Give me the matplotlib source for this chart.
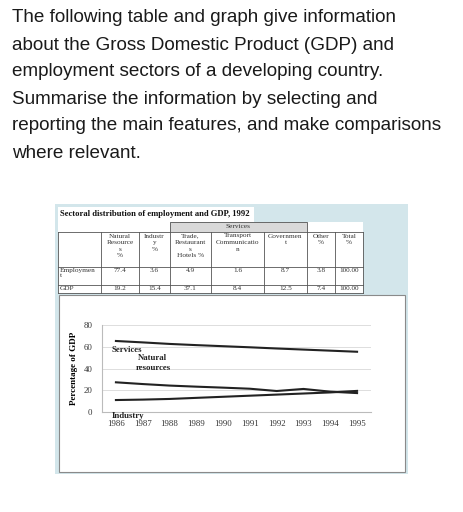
import matplotlib.pyplot as plt
from matplotlib.patches import Rectangle

# prompt text
prompt_lines = [
    "The following table and graph give information",
    "about the Gross Domestic Product (GDP) and",
    "employment sectors of a developing country.",
    "Summarise the information by selecting and",
    "reporting the main features, and make comparisons",
    "where relevant.",
]

# table data
table_title = "Sectoral distribution of employment and GDP, 1992"
col_headers = ["", "Natural\nResource\ns\n%", "Industr\ny\n%", "Trade,\nRestaurant\ns\nHotels %",
               "Transport\nCommunicatio\nn", "Governmen\nt", "Other\n%", "Total\n%"]
row_labels = ["Employmen\nt", "GDP"]
employment = ["77.4", "3.6", "4.9", "1.6", "8.7", "3.8", "100.00"]
gdp = ["19.2", "15.4", "37.1", "8.4", "12.5", "7.4", "100.00"]

# graph data
years = [1986, 1987, 1988, 1989, 1990, 1991, 1992, 1993, 1994, 1995]
services = [65.3, 64.0, 62.6, 61.5, 60.5, 59.5, 58.4, 57.4, 56.4, 55.4]
natural_res = [27.3, 25.7, 24.3, 23.3, 22.4, 21.4, 19.3, 21.2, 18.7, 17.4]
industry = [11.0, 11.4, 12.0, 13.0, 14.0, 15.0, 16.0, 17.0, 18.0, 19.4]

W, H = 463, 512
fig = plt.figure(figsize=(W / 100, H / 100), dpi=100)

bg = fig.add_axes([0, 0, 1, 1])
bg.set_xlim(0, W)
bg.set_ylim(H, 0)
bg.axis("off")

# prompt paragraph
for i, line in enumerate(prompt_lines):
    bg.text(12, 18 + i * 27, line, fontsize=13.6, family="Liberation Sans",
            va="center", ha="left", color="#1a1a1a")

# light blue panel
bg.add_patch(Rectangle((55, 204), 353, 270, facecolor="#d3e6eb", edgecolor="none"))
# title box
bg.add_patch(Rectangle((58, 207), 196, 15, facecolor="white", edgecolor="none"))
bg.text(60, 214.5, table_title, fontsize=6.2, family="Liberation Serif",
        weight="bold", va="center", ha="left", color="#111111")

# table grid
col_x = [58, 101, 139, 170, 211, 264, 307, 335, 363]
y_top, y_head, y_emp, y_gdp, y_bot = 222, 232, 267, 285, 293
lc = "#555555"
lw = 0.6
tfont = dict(fontsize=5.2, family="Liberation Serif", color="#333333")
# top row: white area plus grey "Services" span
bg.add_patch(Rectangle((58, y_top), 112, y_head - y_top, facecolor="white", edgecolor="none"))
bg.add_patch(Rectangle((307, y_top), 56, y_head - y_top, facecolor="white", edgecolor="none"))
bg.add_patch(Rectangle((170, y_top), 137, y_head - y_top, facecolor="#d9d9d9",
                       edgecolor=lc, linewidth=lw))
bg.text(238.5, y_top + 5, "Services", ha="center", va="center", **tfont)
bg.add_patch(Rectangle((58, y_head), 305, y_bot - y_head, facecolor="white", edgecolor="none"))
for yy in [y_head, y_emp, y_gdp, y_bot]:
    bg.plot([58, 363], [yy, yy], color=lc, linewidth=lw)
for xx in col_x:
    bg.plot([xx, xx], [y_head, y_bot], color=lc, linewidth=lw)

for j, head in enumerate(col_headers):
    xc = (col_x[j] + col_x[j + 1]) / 2
    bg.text(xc, y_head + 1.5, head, ha="center", va="top", linespacing=1.4, **tfont)

for i, (lab, vals) in enumerate(zip(row_labels, [employment, gdp])):
    ytxt = [y_emp + 1, y_gdp + 0.5][i]
    bg.text(60, ytxt, lab, ha="left", va="top", linespacing=0.95, **tfont)
    for j, v in enumerate(vals):
        xc = (col_x[j + 1] + col_x[j + 2]) / 2
        bg.text(xc, ytxt, v, ha="center", va="top", **tfont)

# chart box
bg.add_patch(Rectangle((59, 295), 346, 177, facecolor="white", edgecolor="#8a8a8a", linewidth=0.8))

# line chart
ax = fig.add_axes([102 / W, 1 - 412 / H, (371 - 102) / W, (412 - 325) / H])
ax.set_facecolor("none")
ax.set_xlim(1985.48, 1995.52)
ax.set_ylim(0, 80)
ax.set_yticks([0, 20, 40, 60, 80])
ax.set_xticks(years)
ax.grid(axis="y", color="#dddddd", linewidth=0.7)
ax.set_axisbelow(True)
for s in ["top", "right"]:
    ax.spines[s].set_visible(False)
for s in ["left", "bottom"]:
    ax.spines[s].set_color("#bbbbbb")
    ax.spines[s].set_linewidth(0.8)
ax.tick_params(length=0, labelsize=6.3, labelcolor="#333333")
ax.tick_params(axis="x", pad=6)
ax.tick_params(axis="y", pad=7)
for t in ax.get_xticklabels() + ax.get_yticklabels():
    t.set_family("Liberation Serif")

for series in [services, natural_res, industry]:
    ax.plot(years, series, color="#222222", linewidth=1.5)

ax.set_ylabel("Percentage of GDP", fontsize=6.5, family="Liberation Serif",
              weight="bold", labelpad=4)

lab_kw = dict(fontsize=6.3, family="Liberation Serif", weight="bold", color="#222222")
ax.text(1985.85, 57, "Services", ha="left", va="center", **lab_kw)
ax.text(1987.38, 49.5, "Natural", ha="center", va="center", **lab_kw)
ax.text(1987.38, 40.5, "resources", ha="center", va="center", **lab_kw)
ax.text(1985.85, -3.7, "Industry", ha="left", va="center", clip_on=False, **lab_kw)

fig.savefig("out.png", dpi=100)
